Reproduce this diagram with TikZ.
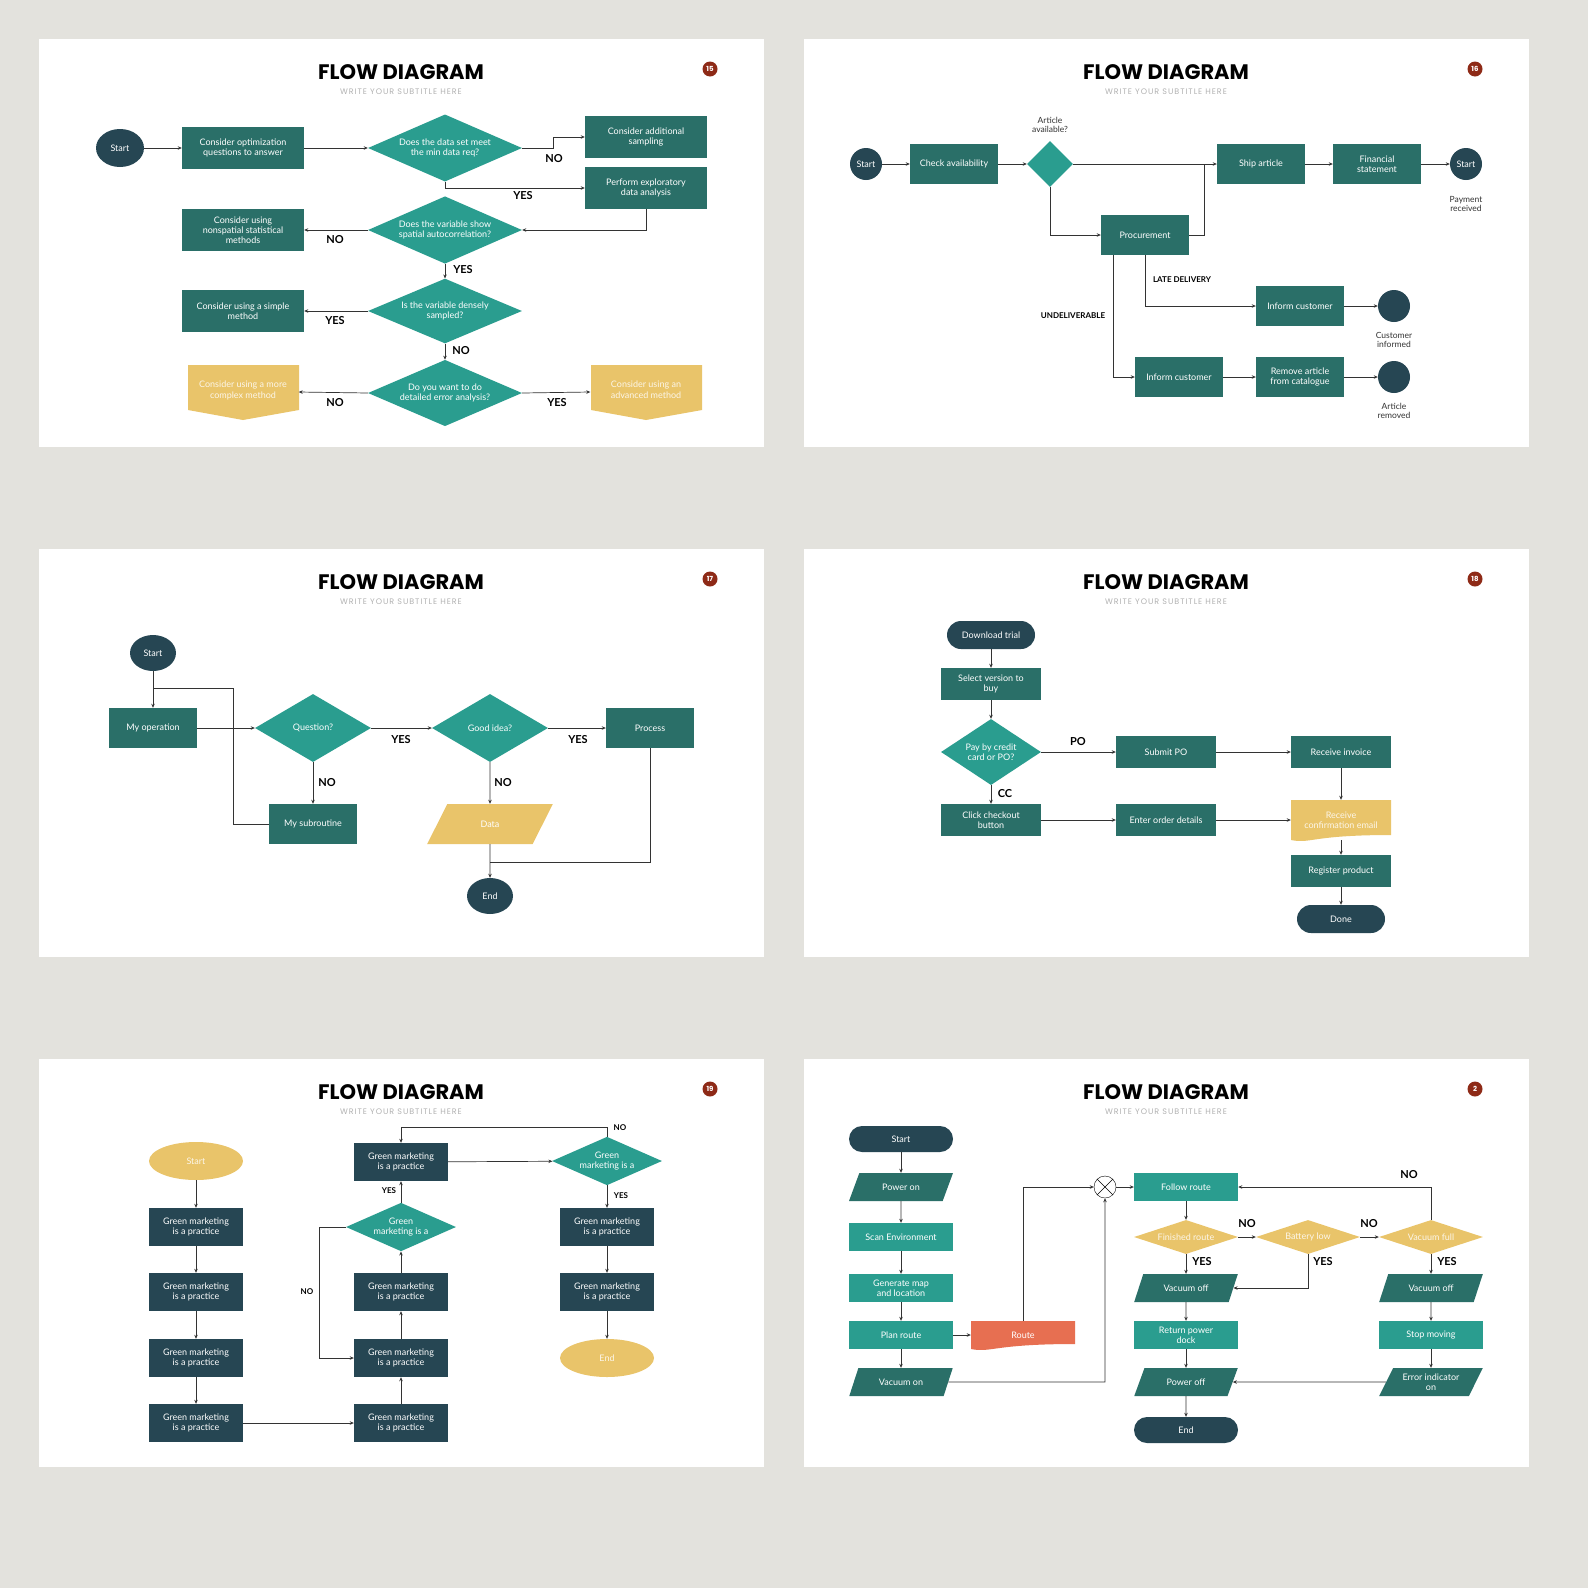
\documentclass[tikz,border=0pt]{standalone}
\usepackage{fontspec}
\setmainfont{Lato}
\newfontfamily\pop{Poppins}
\newfontfamily\popsp{Poppins}[LetterSpace=12]
\usetikzlibrary{shapes.geometric,arrows.meta}
\definecolor{bgc}{HTML}{E3E2DD}
\definecolor{dtl}{HTML}{2A6F68}
\definecolor{tl}{HTML}{2A9D8F}
\definecolor{navy}{HTML}{264653}
\definecolor{yel}{HTML}{E9C46A}
\definecolor{ora}{HTML}{E76F51}
\definecolor{bdg}{HTML}{8E2A17}
\definecolor{lnc}{HTML}{333333}
\tikzset{
 base/.style={text=white,font=\fontsize{9}{10}\selectfont,align=center,inner sep=1pt},
 box/.style={base,rectangle,fill=dtl,minimum width=#1,minimum height=40pt},
 box/.default=88pt,
 dia/.style args={#1x#2}{base,diamond,fill=tl,minimum width=#1,minimum height=#2,aspect=2},
 ell/.style args={#1x#2}{base,ellipse,fill=navy,minimum width=#1,minimum height=#2},
 pill/.style args={#1x#2}{base,rectangle,rounded corners=#2/2,fill=navy,minimum width=#1,minimum height=#2},
 para/.style args={#1x#2}{base,trapezium,trapezium left angle=60,trapezium right angle=120,trapezium stretches=true,fill=dtl,minimum width=#1,minimum height=#2},
 ar/.style={draw=lnc,line width=0.7pt,-{Stealth[length=4pt,width=3.5pt]}},
 ln/.style={draw=lnc,line width=0.7pt},
 lab/.style={font=\bfseries\fontsize{11}{12}\selectfont,text=black},
 dlab/.style={font=\fontsize{8.5}{9.5}\selectfont,text=lnc,align=center},
 wavy/.style args={#1x#2x#3}{base,rectangle,minimum width=#1,minimum height=#2,path picture={\fill[#3] (path picture bounding box.north west) -- (path picture bounding box.north east) -- ([yshift=5pt]path picture bounding box.south east) .. controls ([xshift=-30pt,yshift=5pt]path picture bounding box.south) and ([xshift=20pt,yshift=-4pt]path picture bounding box.south west) .. (path picture bounding box.south west) -- cycle;}},
}
\newcommand{\mypanel}[3]{%
 \fill[white] (#1,#2) rectangle ++(725,408);
 \node[font=\pop\bfseries\fontsize{21}{22}\selectfont] at (#1+362,#2+33) {FLOW DIAGRAM};
 \node[font=\popsp\fontsize{8}{9}\selectfont,text=black!30] at (#1+362,#2+53) {WRITE YOUR SUBTITLE HERE};
 \fill[bdg] (#1+671,#2+30) circle (7.5);
 \node[font=\pop\bfseries\fontsize{7}{7}\selectfont,text=white] at (#1+671,#2+30) {#3};
}
\begin{document}
\begin{tikzpicture}[x=1pt,y=-1pt]
\fill[bgc] (0,0) rectangle (1588,1588);
\mypanel{39}{39}{15}
\mypanel{804}{39}{16}
\mypanel{39}{549}{17}
\mypanel{804}{549}{18}
\mypanel{39}{1059}{19}
\mypanel{804}{1059}{2}
% ---------- Panel 1
\node[ell=48ptx38pt] (a0) at (120,148) {Start};
\node[box=122pt,minimum height=42pt] (a1) at (243,148) {Consider optimization\\questions to answer};
\node[dia=154ptx64pt] (ad1) at (445,148) {Does the data set meet\\the min data req?};
\node[box=122pt,minimum height=42pt] (a2) at (646,137) {Consider additional\\sampling};
\node[box=122pt,minimum height=42pt] (a3) at (646,188) {Perform exploratory\\data analysis};
\node[dia=154ptx64pt] (ad2) at (445,230) {Does the variable show\\spatial autocorrelation?};
\node[box=122pt,minimum height=42pt] (a4) at (243,230) {Consider using\\nonspatial statistical\\methods};
\node[dia=154ptx64pt] (ad3) at (445,311) {Is the variable densely\\sampled?};
\node[box=122pt,minimum height=42pt] (a5) at (243,311) {Consider using a simple\\method};
\node[dia=154ptx64pt] (ad4) at (445,393) {Do you want to do\\detailed error analysis?};
\fill[yel] (188,365) -- (299,365) -- (299,410) -- (243,420) -- (188,410) -- cycle;
\fill[yel] (591,365) -- (702,365) -- (702,410) -- (646,420) -- (591,410) -- cycle;
\node[base,minimum width=111pt,minimum height=55pt,text=white!85!yel] (a6) at (243,392) {\raisebox{4pt}{\shortstack{Consider using a more\\complex method}}};
\node[base,minimum width=111pt,minimum height=55pt,text=white!85!yel] (a7) at (646,392) {\raisebox{4pt}{\shortstack{Consider using an\\advanced method}}};
\draw[ar] (a0) -- (a1);
\draw[ar] (a1) -- (ad1);
\draw[ar] (ad1.east) -- (553,148) |- (a2.west);
\node[lab] at (554,159) {NO};
\draw[ar] (ad1.south) |- (a3.west);
\node[lab] at (523,196) {YES};
\draw[ar] (a3.south) |- (ad2.east);
\draw[ar] (ad2.west) -- (a4.east);
\node[lab] at (335,240) {NO};
\draw[ar] (ad2.south) -- (ad3.north);
\node[lab] at (463,270) {YES};
\draw[ar] (ad3.west) -- (a5.east);
\node[lab] at (335,321) {YES};
\draw[ar] (ad3.south) -- (ad4.north);
\node[lab] at (461,351) {NO};
\draw[ar] (ad4.west) -- (a6.east);
\node[lab] at (335,403) {NO};
\draw[ar] (ad4.east) -- (a7.west);
\node[lab] at (557,403) {YES};
% ---------- Panel 2
\node[ell=32ptx32pt] (b0) at (866,164) {Start};
\node[box] (b1) at (954,164) {Check availability};
\node[dia=46ptx46pt,aspect=1] (bd) at (1050,164) {};
\node[dlab] at (1050,125) {Article\\available?};
\node[box] (b2) at (1261,164) {Ship article};
\node[box] (b3) at (1377,164) {Financial\\statement};
\node[ell=32ptx32pt] (b4) at (1466,164) {Start};
\node[dlab] at (1466,204) {Payment\\received};
\node[box] (b5) at (1145,235) {Procurement};
\node[box] (b6) at (1300,306) {Inform customer};
\node[ell=32ptx32pt] (b7) at (1394,306) {};
\node[dlab] at (1394,340) {Customer\\informed};
\node[box] (b8) at (1179,377) {Inform customer};
\node[box] (b9) at (1300,377) {Remove article\\from catalogue};
\node[ell=32ptx32pt] (b10) at (1394,377) {};
\node[dlab] at (1394,411) {Article\\removed};
\draw[ar] (b0) -- (b1);
\draw[ar] (b1) -- (bd);
\draw[ar] (bd) -- (b2);
\draw[ar] (bd.south) |- (b5.west);
\draw[ln] (b5.east) -- (1204,235) -- (1204,164);
\draw[ar] (b2) -- (b3);
\draw[ar] (b3) -- (b4);
\draw[ar] (b5.south) |- (b6.west);
\node[lab,font=\bfseries\fontsize{8}{9}\selectfont] at (1182,280) {LATE DELIVERY};
\draw[ar] ([xshift=-32pt]b5.south) |- (b8.west);
\node[lab,font=\bfseries\fontsize{8}{9}\selectfont] at (1073,316) {UNDELIVERABLE};
\draw[ar] (b6) -- (b7);
\draw[ar] (b8) -- (b9);
\draw[ar] (b9) -- (b10);
% ---------- Panel 3
\node[ell=46ptx36pt] (c0) at (153,653) {Start};
\node[box] (c1) at (153,728) {My operation};
\node[dia=116ptx68pt] (cq) at (313,728) {Question?};
\node[dia=116ptx68pt] (cg) at (490,728) {Good idea?};
\node[box] (c2) at (650,728) {Process};
\node[box] (c3) at (313,824) {My subroutine};
\node[para=126ptx40pt,fill=yel] (c4) at (490,824) {Data};
\node[ell=46ptx36pt] (c5) at (490,896) {End};
\draw[ar] (c0) -- (c1);
\draw[ln] (153,688) -- (233,688) -- (233,824) -- (c3.west);
\draw[ar] (c1) -- (cq);
\draw[ar] (cq) -- (cg);
\node[lab] at (401,740) {YES};
\draw[ar] (cg) -- (c2);
\node[lab] at (578,740) {YES};
\draw[ar] (cq.south) -- (c3.north);
\node[lab] at (327,783) {NO};
\draw[ar] (cg.south) -- (c4.north);
\node[lab] at (503,783) {NO};
\draw[ar] (c4.south) -- (c5.north);
\draw[ln] (c2.south) |- (490,862);
% ---------- Panel 4
\node[pill=88ptx28pt] (d0) at (991,635) {Download trial};
\node[box=100pt,minimum height=32pt] (d1) at (991,684) {Select version to\\buy};
\node[dia=100ptx66pt,aspect=1.5] (dd) at (991,752) {Pay by credit\\card or PO?};
\node[box=100pt,minimum height=32pt] (d2) at (991,820) {Click checkout\\button};
\node[box=100pt,minimum height=32pt] (d3) at (1166,752) {Submit PO};
\node[box=100pt,minimum height=32pt] (d4) at (1341,752) {Receive invoice};
\node[box=100pt,minimum height=32pt] (d5) at (1166,820) {Enter order details};
\node[wavy=100ptx40ptxyel,text=white!85!yel] (d6) at (1341,820) {Receive\\confirmation email};
\node[box=100pt,minimum height=32pt] (d7) at (1341,871) {Register product};
\node[pill=88ptx28pt] (d8) at (1341,919) {Done};
\draw[ar] (d0) -- (d1);
\draw[ar] (d1) -- (dd);
\draw[ar] (dd) -- (d2);
\node[lab] at (1005,794) {CC};
\draw[ar] (dd) -- (d3);
\node[lab] at (1078,742) {PO};
\draw[ar] (d3) -- (d4);
\draw[ar] (d2) -- (d5);
\draw[ar] (d5) -- (d6);
\draw[ar] (d4) -- (d6);
\draw[ar] (d6) -- (d7);
\draw[ar] (d7) -- (d8);
% ---------- Panel 5
\node[ell=94ptx38pt,fill=yel,text=white!85!yel] (e0) at (196,1161) {Start};
\node[box=94pt,minimum height=38pt,fill=navy] (e1) at (196,1227) {Green marketing\\is a practice};
\node[box=94pt,minimum height=38pt,fill=navy] (e2) at (196,1292) {Green marketing\\is a practice};
\node[box=94pt,minimum height=38pt,fill=navy] (e3) at (196,1358) {Green marketing\\is a practice};
\node[box=94pt,minimum height=38pt,fill=navy] (e4) at (196,1423) {Green marketing\\is a practice};
\node[box=94pt,minimum height=38pt,fill=navy] (m1) at (401,1162) {Green marketing\\is a practice};
\node[dia=110ptx48pt] (md) at (401,1227) {Green\\marketing is a};
\node[box=94pt,minimum height=38pt,fill=navy] (m2) at (401,1292) {Green marketing\\is a practice};
\node[box=94pt,minimum height=38pt,fill=navy] (m3) at (401,1358) {Green marketing\\is a practice};
\node[box=94pt,minimum height=38pt,fill=navy] (m4) at (401,1423) {Green marketing\\is a practice};
\node[dia=110ptx48pt] (rd) at (607,1161) {Green\\marketing is a};
\node[box=94pt,minimum height=38pt,fill=navy] (r1) at (607,1227) {Green marketing\\is a practice};
\node[box=94pt,minimum height=38pt,fill=navy] (r2) at (607,1292) {Green marketing\\is a practice};
\node[ell=94ptx38pt,fill=yel,text=white!85!yel] (r3) at (607,1358) {End};
\draw[ar] (e0) -- (e1);
\draw[ar] (e1) -- (e2);
\draw[ar] (e2) -- (e3);
\draw[ar] (e3) -- (e4);
\draw[ar] (e4) -- (m4);
\draw[ar] (m4) -- (m3);
\draw[ar] (m3) -- (m2);
\draw[ar] (m2) -- (md);
\draw[ar] (md) -- (m1);
\node[lab,font=\bfseries\fontsize{8}{9}\selectfont] at (389,1191) {YES};
\draw[ar] (md.west) -- (319,1227) |- (m3.west);
\node[lab,font=\bfseries\fontsize{8}{9}\selectfont] at (307,1292) {NO};
\draw[ar] (m1) -- (rd);
\draw[ar] (rd.north) -- (607,1127) -| (m1.north);
\node[lab,font=\bfseries\fontsize{8}{9}\selectfont] at (620,1128) {NO};
\draw[ar] (rd) -- (r1);
\node[lab,font=\bfseries\fontsize{8}{9}\selectfont] at (621,1196) {YES};
\draw[ar] (r1) -- (r2);
\draw[ar] (r2) -- (r3);
% ---------- Panel 6
\node[pill=104ptx26pt] (f0) at (901,1139) {Start};
\node[para=104ptx28pt] (f1) at (901,1187) {Power on};
\node[box=104pt,minimum height=28pt,fill=tl] (f2) at (901,1237) {Scan Environment};
\node[box=104pt,minimum height=28pt,fill=tl] (f3) at (901,1288) {Generate map\\and location};
\node[box=104pt,minimum height=28pt,fill=tl] (f4) at (901,1335) {Plan route};
\node[para=104ptx28pt] (f5) at (901,1382) {Vacuum on};
\node[wavy=104ptx28ptxora] (f6) at (1023,1335) {Route};
\node[circle,draw=black,fill=white,minimum size=22pt,inner sep=0pt,path picture={\draw[black] (path picture bounding box.north west) -- (path picture bounding box.south east) (path picture bounding box.north east) -- (path picture bounding box.south west);}] (fx) at (1105,1187) {};
\node[box=104pt,minimum height=28pt,fill=tl] (g1) at (1186,1187) {Follow route};
\node[dia=104ptx34pt,fill=yel,aspect=3,text=white!85!yel] (g2) at (1186,1237) {Finished route};
\node[dia=104ptx34pt,fill=yel,aspect=3,text=white!85!yel] (g3) at (1308,1237) {Battery low};
\node[dia=104ptx34pt,fill=yel,aspect=3,text=white!85!yel] (g4) at (1431,1237) {Vacuum full};
\node[para=104ptx28pt] (g5) at (1186,1288) {Vacuum off};
\node[box=104pt,minimum height=28pt,fill=tl] (g6) at (1186,1335) {Return power\\dock};
\node[para=104ptx28pt] (g7) at (1186,1382) {Power off};
\node[pill=104ptx26pt] (g8) at (1186,1430) {End};
\node[para=104ptx28pt] (h1) at (1431,1288) {Vacuum off};
\node[box=104pt,minimum height=28pt,fill=tl] (h2) at (1431,1335) {Stop moving};
\node[para=104ptx28pt] (h3) at (1431,1382) {Error indicator\\on};
\draw[ar] (f0) -- (f1);
\draw[ar] (f1) -- (f2);
\draw[ar] (f2) -- (f3);
\draw[ar] (f3) -- (f4);
\draw[ar] (f4) -- (f5);
\draw[ar] (f4) -- (f6);
\draw[ar] (f6.north) |- (fx.west);
\draw[ar] (f5.east) -- (1105,1382) -- (fx.south);
\draw[ar] (fx) -- (g1);
\draw[ar] (g1) -- (g2);
\draw[ar] (g2) -- (g3);
\node[lab] at (1247,1224) {NO};
\draw[ar] (g3) -- (g4);
\node[lab] at (1369,1224) {NO};
\draw[ar] (g4.north) |- (g1.east);
\node[lab] at (1409,1175) {NO};
\draw[ar] (g2) -- (g5);
\node[lab] at (1202,1262) {YES};
\draw[ar] (g3.south) |- (g5.east);
\node[lab] at (1323,1262) {YES};
\draw[ar] (g4) -- (h1);
\node[lab] at (1447,1262) {YES};
\draw[ar] (g5) -- (g6);
\draw[ar] (g6) -- (g7);
\draw[ar] (g7) -- (g8);
\draw[ar] (h1) -- (h2);
\draw[ar] (h2) -- (h3);
\draw[ar] (h3) -- (g7);
\pgfresetboundingbox
\useasboundingbox (0,0) rectangle (1588,1588);
\end{tikzpicture}
\end{document}
